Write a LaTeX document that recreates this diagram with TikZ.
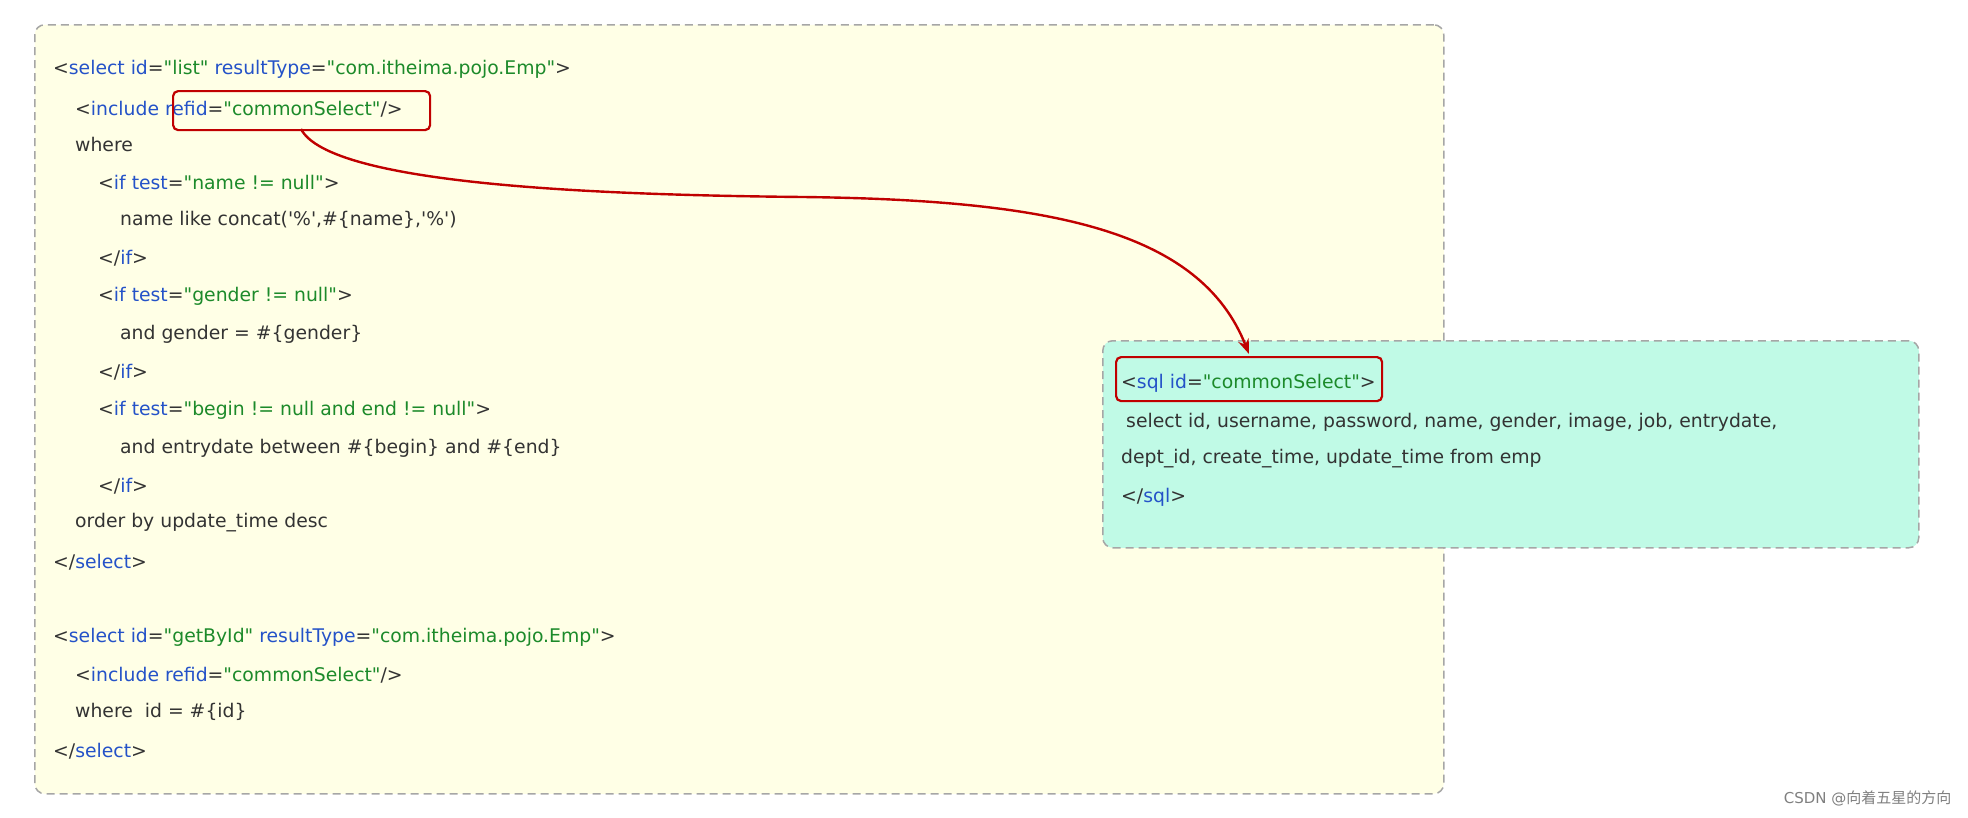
\documentclass[tikz,border=0pt]{standalone}
\usepackage{fontspec}
\usetikzlibrary{arrows.meta}
\setmainfont{DejaVu Sans}[Ligatures=TeXOff]
\newfontfamily\cjkf{Noto Sans CJK SC}
\definecolor{kb}{HTML}{2452C8}
\definecolor{kg}{HTML}{1C8A2A}
\definecolor{kt}{HTML}{333333}
\definecolor{yel}{HTML}{FFFFE6}
\definecolor{teal}{HTML}{C0FAE6}
\definecolor{rd}{HTML}{C00000}
\newcommand\tB[1]{\textcolor{kb}{#1}}
\newcommand\tG[1]{\textcolor{kg}{#1}}
\tikzset{
 panel/.style={draw=gray!70,dash pattern=on 8pt off 5pt,rounded corners=10pt,line width=1.5pt},
 code/.style={anchor=west,inner sep=0pt,text=kt,font=\fontsize{18.8}{22}\selectfont},
 hl/.style={draw=rd,line width=2.2pt,rounded corners=5pt},
}
\begin{document}
\begin{tikzpicture}[x=1pt,y=-1pt]
\useasboundingbox[fill=white] (0,0) rectangle (1968,817);
\node[panel,fill=yel,minimum width=1409pt,minimum height=769pt,anchor=north west] (L) at (34,24) {};
\foreach \y/\x/\t in {
 69/53/{<\tB{select id}=\tG{"list"} \tB{resultType}=\tG{"com.itheima.pojo.Emp"}>},
 109/75/{<\tB{include refid}=\tG{"commonSelect"}/>},
 144/75/{where},
 182/98/{<\tB{if test}=\tG{"name != null"}>},
 220/120/{name like concat('\%',\#\{name\},'\%')},
 258/98/{</\tB{if}>},
 296/98/{<\tB{if test}=\tG{"gender != null"}>},
 334/120/{and gender = \#\{gender\}},
 372/98/{</\tB{if}>},
 410/98/{<\tB{if test}=\tG{"begin != null and end != null"}>},
 448/120/{and entrydate between \#\{begin\} and \#\{end\}},
 486/98/{</\tB{if}>},
 523/75/{order by update\_time desc},
 562/53/{</\tB{select}>},
 637/53/{<\tB{select id}=\tG{"getById"} \tB{resultType}=\tG{"com.itheima.pojo.Emp"}>},
 675/75/{<\tB{include refid}=\tG{"commonSelect"}/>},
 712/75/{where\ \ id = \#\{id\}},
 751/53/{</\tB{select}>}}
 \node[code] at (\x,\y) {\t};
\node[panel,fill=teal,minimum width=816pt,minimum height=207pt,anchor=north west] (R) at (1102,340) {};
\node[code] (s1) at (1121,383) {<\tB{sql id}=\tG{"commonSelect"}>};
\node[code] (s2) at (1126,422) {select id, username, password, name, gender, image, job, entrydate,};
\node[code] (s3) at (1121,459) {dept\_id, create\_time, update\_time from emp};
\node[code] (s4) at (1121,497) {</\tB{sql}>};
\node[hl,minimum width=257pt,minimum height=39pt,anchor=north west] (h1) at (172,90) {};
\node[hl,minimum width=266pt,minimum height=44pt,anchor=north west] (h2) at (1115,356) {};
\coordinate (a0) at (301,129);
\coordinate (a1) at (1249,354);
\draw[rd,line width=2.4pt,-{Stealth[length=15pt,width=11pt]}] (a0) .. controls (330,185) and (600,195) .. (803,197) .. controls (1050,200) and (1200,230) .. (a1);
\node[anchor=east,text=gray,font=\fontsize{15}{18}\selectfont] (wm) at (1955,798) {CSDN @{\cjkf 向着五星的方向}};
\end{tikzpicture}
\end{document}
